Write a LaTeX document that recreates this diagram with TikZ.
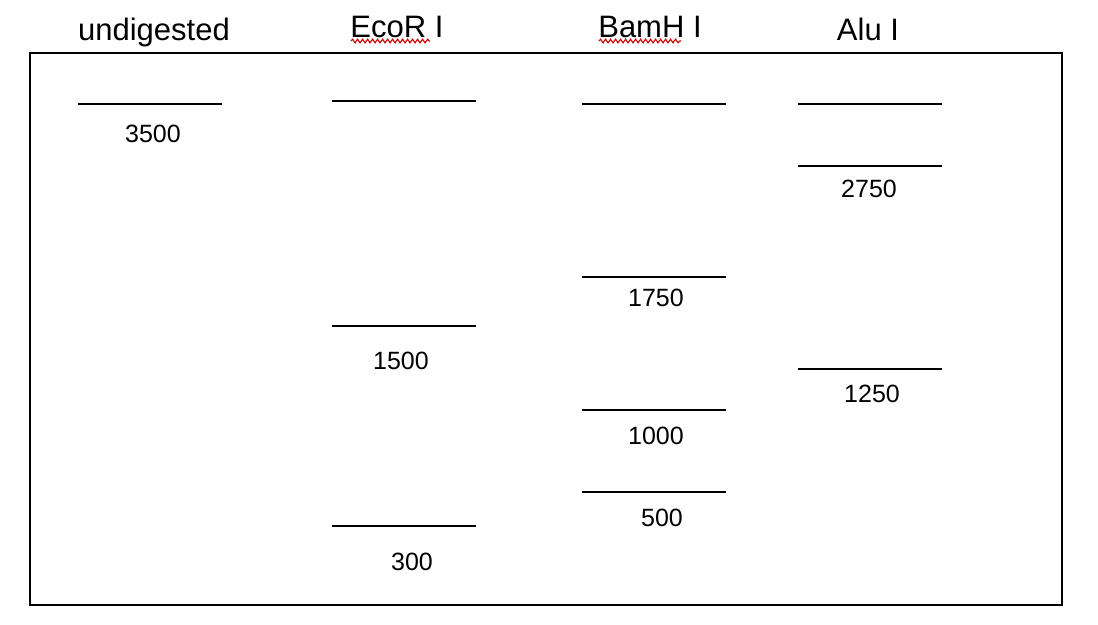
\documentclass[tikz,border=0pt]{standalone}
\usepackage{fontspec}
\setmainfont{Liberation Sans}
\usetikzlibrary{decorations.pathmorphing}

\begin{document}
\begin{tikzpicture}[
  x=1pt, y=-1pt,
  lane/.style={font=\fontsize{31}{36}\selectfont, anchor=base, inner sep=0pt},
  size/.style={font=\fontsize{25}{30}\selectfont, inner sep=0pt},
  band/.style={line width=1.8pt},
  gel/.style={line width=1.8pt},
  squiggle/.style={draw=red!80!black, line width=1.1pt,
                   decorate, decoration={snake, amplitude=1.8pt, segment length=5pt}}
]
\useasboundingbox (0,0) rectangle (1098,624);
\draw[gel] (30,53) rectangle (1062,605);

% lane headers
\node[lane] (und) at (154,40) {undigested};
\node[lane] (eco) at (397,37) {EcoR I};
\node[lane] (bam) at (650,37) {BamH I};
\node[lane] (alu) at (868,40) {Alu I};
\draw[squiggle] (351,41) -- (430,41);
\draw[squiggle] (599,41) -- (681,41);

% undigested
\draw[band] (78,104) -- (222,104);
\node[size] (u3500) at (153,134) {3500};

% EcoR I
\draw[band] (332,101) -- (476,101);
\draw[band] (332,326) -- (476,326);
\node[size] (e1500) at (401,361) {1500};
\draw[band] (332,526) -- (476,526);
\node[size] (e300) at (412,562) {300};

% BamH I
\draw[band] (582,104) -- (726,104);
\draw[band] (582,277) -- (726,277);
\node[size] (b1750) at (656,298) {1750};
\draw[band] (582,410) -- (726,410);
\node[size] (b1000) at (656,436) {1000};
\draw[band] (582,492) -- (726,492);
\node[size] (b500) at (662,518) {500};

% Alu I
\draw[band] (798,104) -- (942,104);
\draw[band] (798,166) -- (942,166);
\node[size] (a2750) at (869,189) {2750};
\draw[band] (798,369) -- (942,369);
\node[size] (a1250) at (872,394) {1250};
\end{tikzpicture}
\end{document}
